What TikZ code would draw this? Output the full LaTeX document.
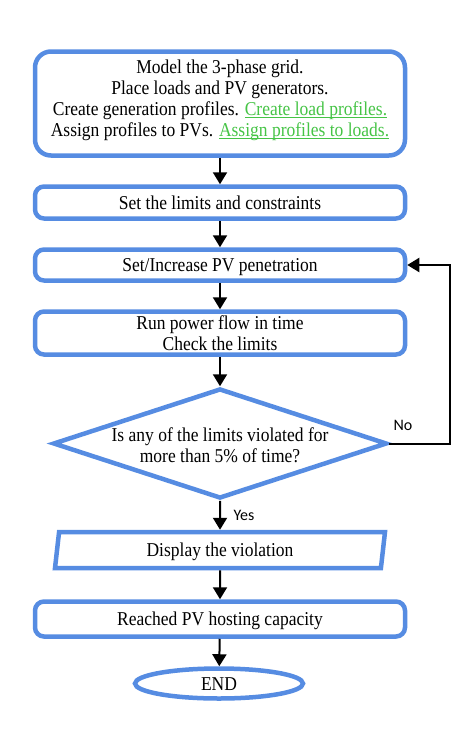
\documentclass[tikz,border=0pt]{standalone}
\usepackage{fontspec}
\usepackage{graphicx}
\setmainfont{Liberation Serif}
\newfontfamily\labfont{Carlito}
\usetikzlibrary{shapes.geometric,arrows.meta}
\definecolor{boxblue}{RGB}{86,140,226}
\definecolor{linkgreen}{RGB}{70,196,70}
\tikzset{
  boxbase/.style={draw=boxblue, line width=4.5pt, fill=white, align=center,
    font=\fontsize{17.5}{18.75}\selectfont, inner sep=0pt},
  procbox/.style={boxbase, rectangle, rounded corners=9pt, minimum width=370pt},
  decbox/.style={boxbase, diamond, minimum width=334pt, minimum height=110pt},
  iobox/.style={boxbase, trapezium, trapezium left angle=79, trapezium right angle=101,
    minimum width=330pt, minimum height=36pt, trapezium stretches body},
  termbox/.style={boxbase, ellipse, minimum width=168pt, minimum height=30pt},
  flow/.style={line width=2pt, -{Triangle[width=14pt,length=12pt]}},
  lab/.style={font=\labfont\fontsize{16}{18}\selectfont, inner sep=0pt},
  plain/.style={align=center, font=\fontsize{17.5}{18.75}\selectfont, inner sep=0pt}
}
\newcommand{\grn}[1]{{\color{linkgreen}\setbox0\hbox{#1}\rlap{\rule[-2.2pt]{\wd0}{0.9pt}}\box0}}
\newcommand{\tl}[2][-2.5pt]{\raisebox{#1}[\height][\depth]{\scalebox{1}[1.12]{\begin{tabular}{@{}c@{}}#2\end{tabular}}}}
\begin{document}
\begin{tikzpicture}[x=1pt,y=-1pt]
\useasboundingbox (0,0) rectangle (474,742);
\node[procbox, minimum height=104pt, rounded corners=16pt] (b1) at (220,103.5)
  {\tl[3pt]{Model the 3-phase grid.\\Place loads and PV generators.\\Create generation profiles. \grn{Create load profiles.}\\Assign profiles to PVs. \grn{Assign profiles to loads.}}};
\node[procbox, minimum height=32pt] (b2) at (220,202.5) {\tl{Set the limits and constraints}};
\node[procbox, minimum height=31pt] (b3) at (220,265) {\tl{Set/Increase PV penetration}};
\node[procbox, minimum height=43pt] (b4) at (220,333) {\tl{Run power flow in time\\Check the limits}};
\node[decbox] (d) at (220,443.5) {};
\node[plain] (dt) at (d.center) {\tl[-4.5pt]{Is any of the limits violated for\\more than 5\% of time?}};
\node[iobox] (p) at (220,550) {\tl{Display the violation}};
\node[procbox, minimum height=35pt] (b5) at (220,619) {\tl{Reached PV hosting capacity}};
\node[termbox] (e) at (219,683.5) {\tl{END}};
\coordinate (fb) at (450,443.5);
\draw[flow] (b1) -- (b2);
\draw[flow] (b2) -- (b3);
\draw[flow] (b3) -- (b4);
\draw[flow] (b4) -- (d);
\draw[flow] (d) -- (p);
\draw[flow] (p) -- (b5);
\draw[flow] (b5) -- (e);
\draw[flow] (d.east) -- (fb) |- (b3.east);
\node[lab] (no) at (403,425) {No};
\node[lab] (yes) at (244,515) {Yes};
\end{tikzpicture}
\end{document}
